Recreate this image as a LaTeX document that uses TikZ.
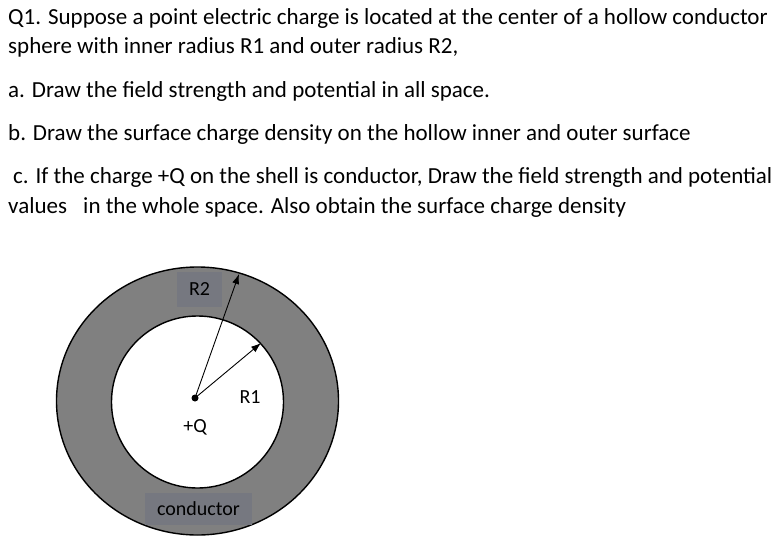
\documentclass[tikz,border=0pt]{standalone}
\usepackage{fontspec}
\usetikzlibrary{arrows.meta}
\setmainfont{Carlito}
\definecolor{ringgray}{RGB}{128,128,128}
\definecolor{boxgray}{RGB}{118,120,128}
\begin{document}
\begin{tikzpicture}[x=1pt,y=-1pt,
  txt/.style={anchor=base west,inner sep=0pt,font=\fontsize{23}{27}\selectfont},
  lbl/.style={fill=boxgray,inner sep=0pt,font=\fontsize{20}{24}\selectfont},
  plain/.style={inner sep=0pt,font=\fontsize{20}{24}\selectfont},
  radline/.style={-{Latex[length=10pt,width=7pt]},line width=0.9pt}]
\useasboundingbox (0,0) rectangle (776,541);
% question text
\node[txt] (l1) at (8,24) {Q1. Suppose a point electric charge is located at the center of a hollow conductor};
\node[txt] (l2) at (8,53) {sphere with inner radius R1 and outer radius R2,};
\node[txt] (l3) at (8,97) {a. Draw the field strength and potential in all space.};
\node[txt] (l4) at (8,140) {b. Draw the surface charge density on the hollow inner and outer surface};
\node[txt] (l5) at (13,183) {c. If the charge +Q on the shell is conductor, Draw the field strength and potential};
\node[txt] (l6) at (8,213) {values\hspace{11pt} in the whole space. Also obtain the surface charge density};
% shell
\filldraw[fill=ringgray,line width=1.4pt,even odd rule] (197.5,401) ellipse [x radius=141,y radius=134]
  (197.5,402) circle [radius=86];
\node[lbl,minimum width=45,minimum height=35] (rtwo) at (199.5,289.5) {R2};
\node[lbl,minimum width=107,minimum height=32] (cond) at (198.5,509) {conductor};
% charge and radii
\node[circle,fill,inner sep=0pt,minimum size=7] (q) at (195,398) {};
\coordinate (outer) at (239,274);
\coordinate (inner) at (261,343);
\draw[radline] (q.center) -- (outer);
\draw[radline] (q.center) -- (inner);
\node[plain] (rone) at (250,397) {R1};
\node[plain] (charge) at (195,427) {+Q};
\end{tikzpicture}
\end{document}
